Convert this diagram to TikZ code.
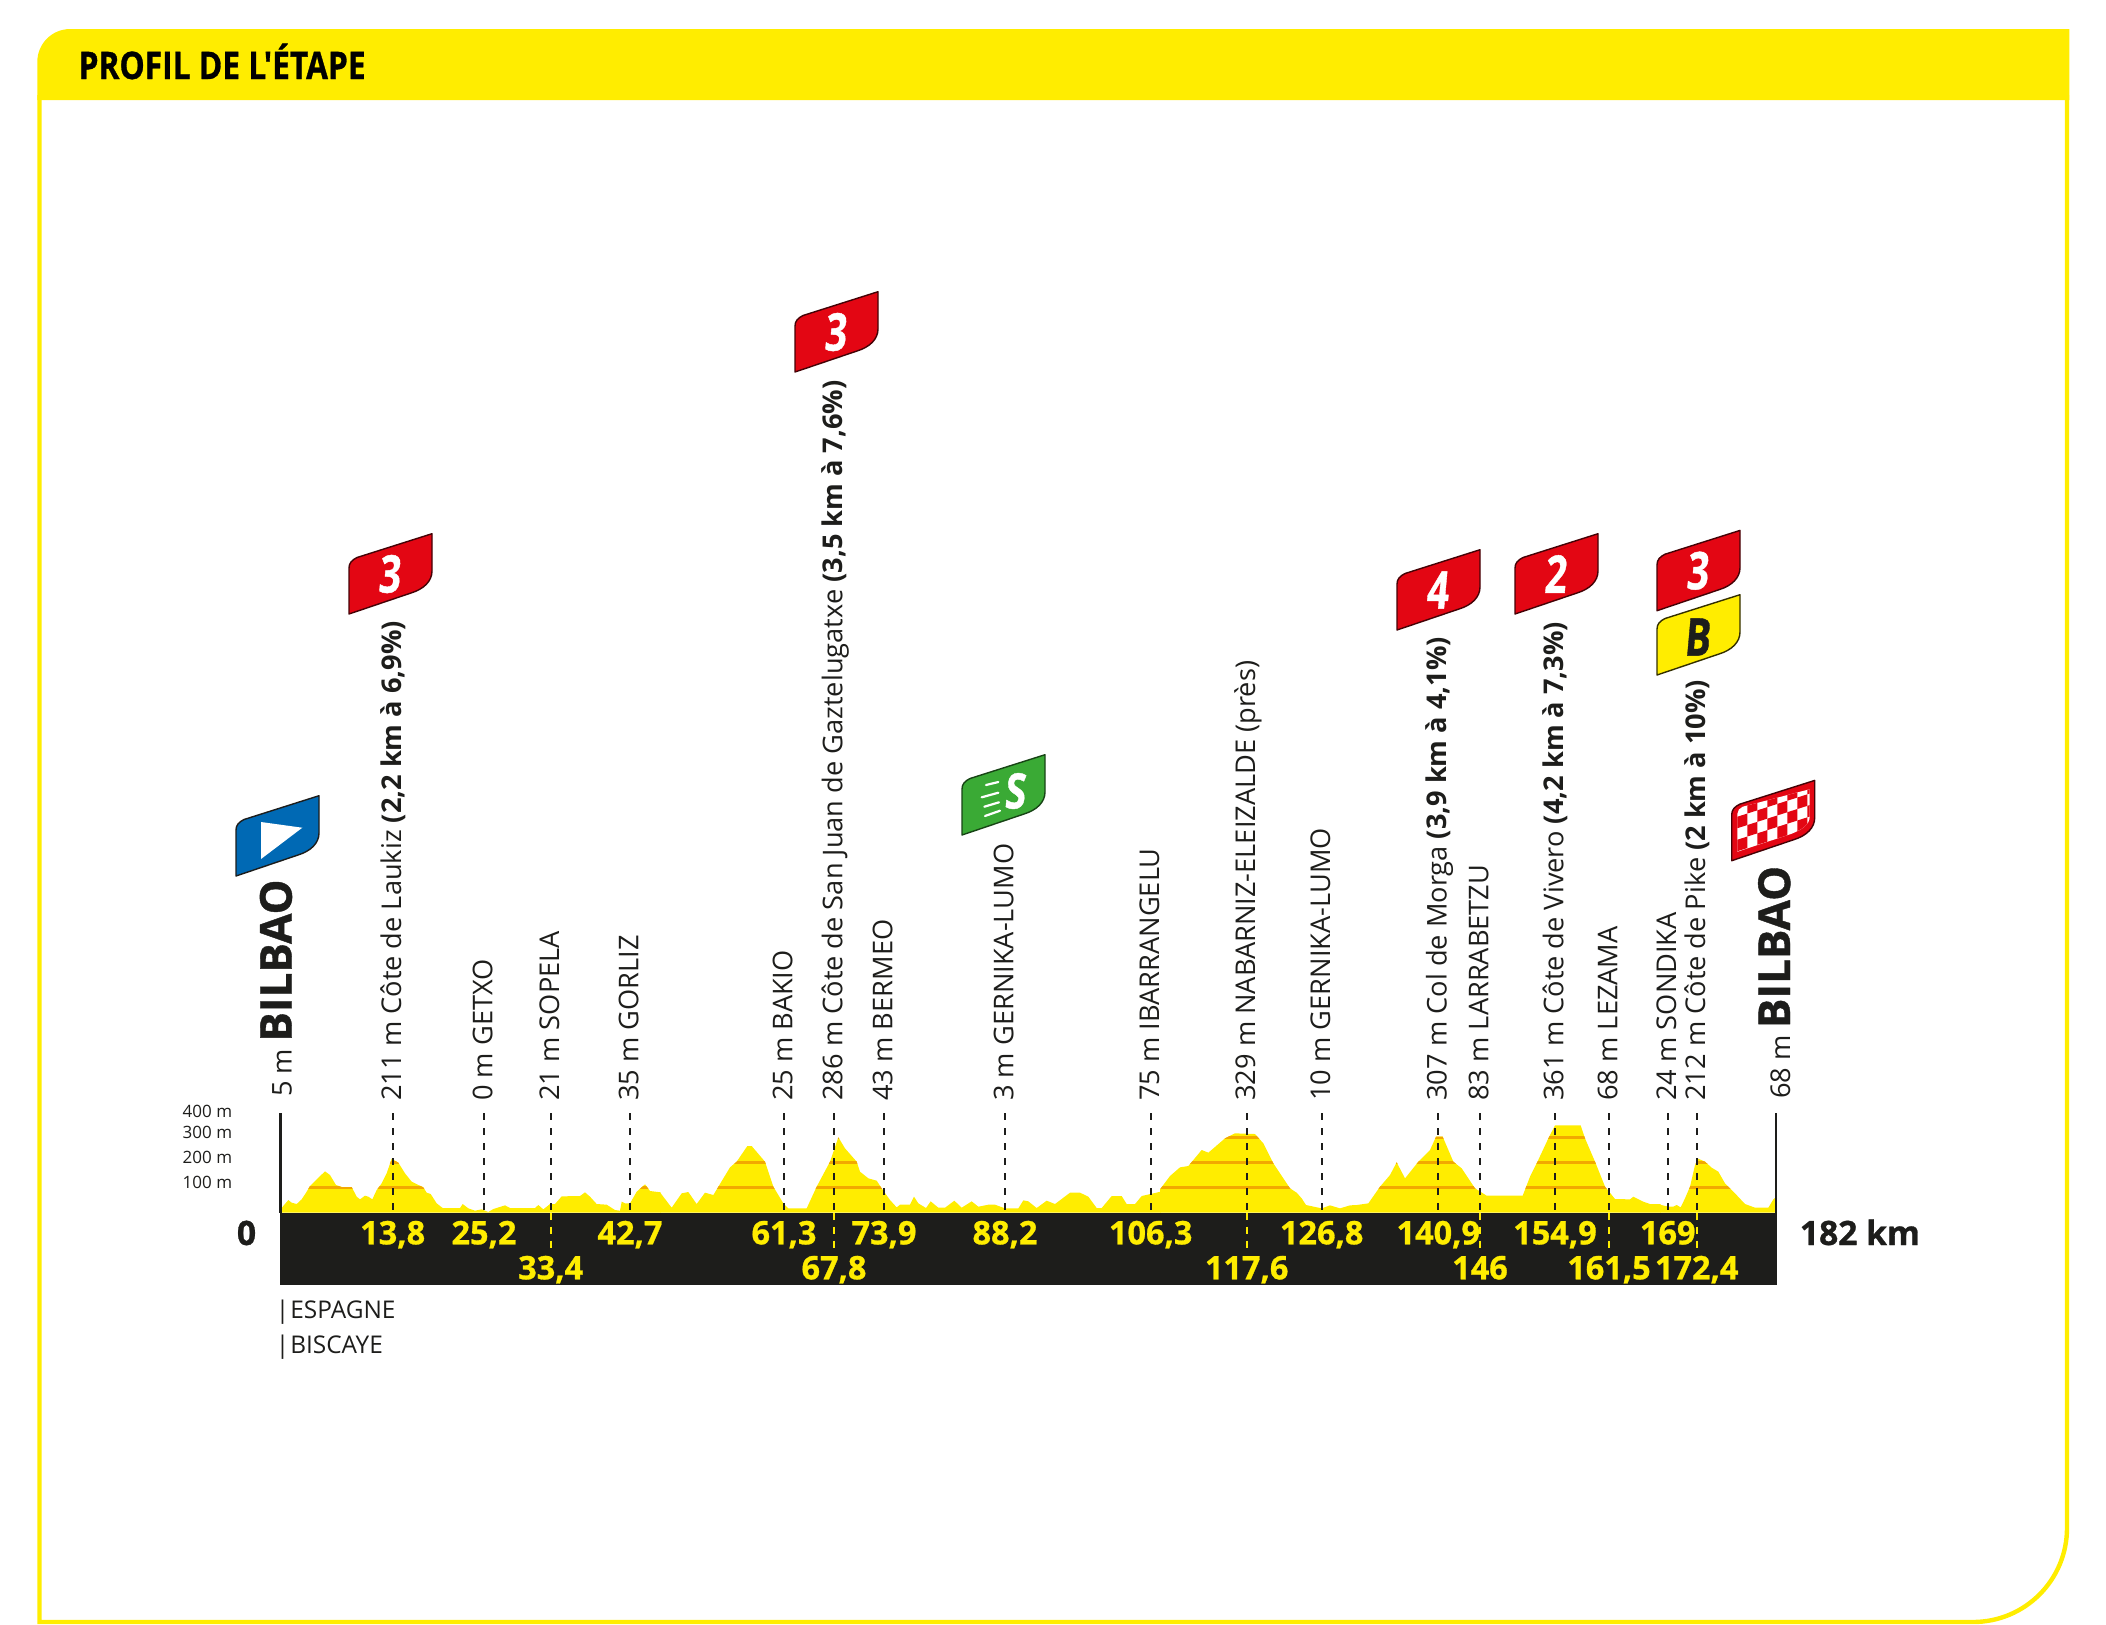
\documentclass[tikz,border=0pt]{standalone}
\usepackage{fontspec}
\setmainfont{Open Sans}
\newfontfamily\xbase{Open Sans}[BoldFeatures={FakeBold=0.9}]
\newcommand{\xb}{\xbase\bfseries}
\definecolor{tyel}{HTML}{FFED00}
\definecolor{tblk}{HTML}{1D1D1B}
\definecolor{torg}{HTML}{F2A900}
\definecolor{tred}{HTML}{E30613}
\definecolor{tblu}{HTML}{0069B4}
\definecolor{tgrn}{HTML}{3AAA35}
\tikzset{
 lbl/.style={font=\fontsize{13.6}{16}\selectfont,text=tblk,rotate=90,anchor=base west,inner sep=0pt},
 kmnum/.style={font=\xb\fontsize{16.2}{18}\selectfont,text=tyel,anchor=base,inner sep=0pt},
 blacktxt/.style={font=\xb\fontsize{16.8}{18}\selectfont,text=tblk,inner sep=0pt},
 dashblk/.style={draw=tblk,line width=1pt,dash pattern=on 3.7pt off 3.8pt},
 dashyel/.style={draw=tyel,line width=1pt,dash pattern=on 3.7pt off 3.3pt},
 axisline/.style={draw=tblk,line width=1.1pt},
 alt/.style={font=\fontsize{8.5}{10}\selectfont,text=tblk,anchor=base east,inner sep=0pt},
 region/.style={font=\fontsize{12.2}{14}\selectfont,text=tblk,anchor=base west,inner sep=0pt},
 glyph/.style={font=\xb\fontsize{26}{28}\selectfont,inner sep=0pt,xscale=.74,xslant=.12},
}
\newcommand{\flagshape}{(0,0) -- (0,-46) .. controls (0,-51) and (3,-54) .. (8,-56.5) -- (83,-80.3) -- (83,-43) .. controls (83,-33) and (75,-25) .. (62,-21) -- cycle}
\newcommand{\flagat}[4]{\begin{scope}[shift={(#1,#2)}]\draw[fill=#3,draw=#4,line width=.7pt,line join=round] \flagshape;}
\newcommand{\seg}[4]{\begin{scope}[shift={(#1,#2)},x=.166667pt,y=-.166667pt]
 \fill[tyel] plot coordinates {#3} -- cycle;
 \clip plot coordinates {#3} -- cycle;
 \foreach \yy in {#4} \draw[torg,line width=1.2pt] (-100,\yy) -- (1700,\yy);
 \end{scope}}
\newcommand{\stage}[5]{%
 \coordinate (#1t) at (#2,1113);
 \coordinate (#1b) at (#2,1212.7);
 \draw[dashblk] (#1t) -- (#1b);
 \ifnum#5=2
  \coordinate (#1y) at (#2,1248);
  \draw[dashyel] (#1b) -- (#1y);
  \node[kmnum] (#1k) at (#2,1279.3) {#4};
 \else
  \node[kmnum] (#1k) at (#2,1244.3) {#4};
 \fi
 \node[lbl] (#1l) at ([xshift=4.2pt]#1t |- 0,1101) {#3};
}
\begin{document}
\begin{tikzpicture}[x=.5pt,y=-.5pt]
\useasboundingbox (0,0) rectangle (2106,1624);
% frame
\draw[tyel,line width=2.2pt] (39.5,95) -- (39.5,1622) -- (1973,1622) .. controls (2025,1622) and (2067,1580) .. (2067,1528) -- (2067,95);
\fill[tyel] (37.3,100) -- (37.3,62) .. controls (37.3,43.8) and (51.8,29) .. (70.3,29) -- (2069.3,29) -- (2069.3,100) -- cycle;
\node[font=\xb\fontsize{19}{20}\selectfont,text=black,anchor=base west,inner sep=0pt,xscale=.835] (title) at (78.3,79) {PROFIL DE L'ÉTAPE};
% profile
\seg{160}{1060}{(358,458)(368,440)(385,420)(395,428)(410,432)(425,418)(437,400)(450,378)(470,358)(495,334)(510,345)(528,375)(545,381)(575,381)(590,410)(600,418)(615,407)(625,410)(637,418)(650,390)(665,370)(680,340)(695,296)(715,308)(735,340)(755,365)(790,382)(800,398)(812,402)(830,430)(848,444)(900,444)(908,432)(925,445)(945,452)(965,448)(985,456)(1000,447)(1035,436)(1050,444)(1125,444)(1135,435)(1150,448)(1170,432)(1185,432)(1205,409)(1260,408)(1275,397)(1290,410)(1310,432)(1340,434)(1365,450)(1380,452)(1385,425)(1395,430)(1410,430)(1430,395)(1455,373)(1470,393)(1502,397)(1502,458)}{382,307,232}
\seg{660}{1060}{(0,458)(0,397)(35,443)(65,400)(85,396)(110,432)(135,398)(160,405)(210,322)(230,305)(262,258)(275,258)(315,305)(340,380)(370,430)(385,445)(440,445)(470,380)(510,305)(535,232)(555,265)(590,305)(600,335)(625,355)(650,362)(665,385)(690,420)(710,442)(720,434)(750,434)(762,410)(775,430)(798,444)(812,424)(835,443)(855,443)(883,422)(905,443)(935,424)(955,440)(985,434)(1005,434)(1035,445)(1075,445)(1090,421)(1105,424)(1130,444)(1160,422)(1185,432)(1230,398)(1260,398)(1285,410)(1310,444)(1325,444)(1355,408)(1385,408)(1400,432)(1425,432)(1445,408)(1502,395)(1502,458)}{382,307,232}
\seg{1160}{1060}{(0,458)(0,388)(30,348)(60,322)(85,318)(125,270)(145,278)(195,235)(225,220)(285,222)(310,250)(340,310)(390,385)(410,398)(425,415)(438,435)(485,445)(510,436)(540,445)(570,436)(590,435)(625,430)(660,380)(690,345)(710,307)(735,355)(775,305)(810,270)(828,230)(848,230)(880,305)(905,325)(945,385)(980,407)(1088,407)(1110,350)(1130,310)(1165,235)(1185,196)(1262,196)(1275,235)(1305,305)(1335,380)(1365,417)(1410,418)(1420,410)(1450,425)(1470,432)(1502,432)(1502,458)}{382,307,232}
\seg{1640}{1100}{(60,338)(60,314)(85,320)(100,320)(110,315)(122,322)(135,295)(150,260)(165,195)(175,176)(195,185)(215,203)(235,215)(255,250)(285,280)(315,312)(345,323)(385,323)(400,298)(407,292)(407,338)}{262,187}
% band and axes
\fill[tblk] (279.5,1212.7) rectangle (1776.5,1285.3);
\coordinate (axlt) at (280.5,1113);
\coordinate (axlb) at (280.5,1213);
\coordinate (axrt) at (1775.7,1113);
\coordinate (axrb) at (1775.7,1213);
\draw[axisline] (axlt) -- (axlb);
\draw[axisline] (axrt) -- (axrb);
% altitudes
\node[alt] (a400) at (232.5,1117.3) {400 m};
\node[alt] (a300) at (232.5,1138.3) {300 m};
\node[alt] (a200) at (232.5,1163.3) {200 m};
\node[alt] (a100) at (232.5,1188.3) {100 m};
\node[blacktxt,anchor=base] (zero) at (246.5,1245) {0};
\node[blacktxt,anchor=base west] (total) at (1799.5,1245) {182 km};
\node[region] (esp) at (275.5,1318) {|\hspace{.5pt}ESPAGNE};
\node[region] (bis) at (275.5,1353) {|\hspace{.5pt}BISCAYE};
% stages
\stage{a}{392.7}{211 m Côte de Laukiz \textbf{(2,2 km à 6,9\%)}}{13,8}{1}
\stage{b}{484}{0 m GETXO}{25,2}{1}
\stage{c}{550.7}{21 m SOPELA}{33,4}{2}
\stage{d}{630}{35 m GORLIZ}{42,7}{1}
\stage{e}{784}{25 m BAKIO}{61,3}{1}
\stage{f}{834}{286 m Côte de San Juan de Gaztelugatxe \textbf{(3,5 km à 7,6\%)}}{67,8}{2}
\stage{g}{884}{43 m BERMEO}{73,9}{1}
\stage{h}{1005}{3 m GERNIKA-LUMO}{88,2}{1}
\stage{i}{1150.7}{75 m IBARRANGELU}{106,3}{1}
\stage{j}{1246.7}{329 m NABARNIZ-ELEIZALDE (près)}{117,6}{2}
\stage{k}{1321.7}{10 m GERNIKA-LUMO}{126,8}{1}
\stage{m}{1438.3}{307 m Col de Morga \textbf{(3,9 km à 4,1\%)}}{140,9}{1}
\stage{n}{1480}{83 m LARRABETZU}{146}{2}
\stage{o}{1555}{361 m Côte de Vivero \textbf{(4,2 km à 7,3\%)}}{154,9}{1}
\stage{p}{1609}{68 m LEZAMA}{161,5}{2}
\stage{q}{1667.7}{24 m SONDIKA}{169}{1}
\stage{r}{1696.7}{212 m Côte de Pike \textbf{(2 km à 10\%)}}{172,4}{2}
\node[lbl] (startl) at (291.7,1097) {5 m {\xb\fontsize{22}{24}\selectfont BILBAO}};
\node[lbl] (endl) at (1790,1099) {68 m {\xb\fontsize{22}{24}\selectfont BILBAO}};
% flags
\flagat{236}{876}{tblu}{tblk}
 \fill[white] (25,-54) -- (66.3,-48.3) -- (25,-17) -- cycle;
\end{scope}
\flagat{349}{614}{tred}{black!70!tred}
 \node[glyph,text=white] (f1) at (41.5,-40) {3};
\end{scope}
\flagat{795}{372}{tred}{black!70!tred}
 \node[glyph,text=white] (f2) at (41.5,-40) {3};
\end{scope}
\flagat{1397}{630}{tred}{black!70!tred}
 \node[glyph,text=white] (f3) at (41.5,-40) {4};
\end{scope}
\flagat{1515}{614}{tred}{black!70!tred}
 \node[glyph,text=white] (f4) at (41.5,-40) {2};
\end{scope}
\flagat{1657}{610.7}{tred}{black!70!tred}
 \node[glyph,text=white] (f5) at (41.5,-40) {3};
\end{scope}
\flagat{1657}{675}{tyel}{black!80!tyel}
 \node[glyph,text=tblk] (f6) at (41.5,-38) {B};
\end{scope}
\flagat{962}{835}{tgrn}{black!60!tgrn}
 \node[glyph,text=white,font=\xb\fontsize{24.5}{26}\selectfont,xscale=1.05] (f7) at (54,-44) {S};
 \draw[white,line width=1.1pt,line cap=round] (24,-50) -- (36.3,-53) (19.7,-37.7) -- (36.3,-42.3) (22.3,-28.3) -- (37,-32.7) (23,-19) -- (38,-24.3);
\end{scope}
\flagat{1731.7}{860.7}{tred}{black!70!tred}
 \begin{scope}
 \fill[white] (5.7,-9) -- (5.7,-47) .. controls (5.7,-50) and (8,-53) .. (11,-54) -- (78,-71.5) -- (78,-44) .. controls (78,-36) and (70,-31) .. (60,-27) -- cycle;
 \clip (5.7,-9) -- (5.7,-47) .. controls (5.7,-50) and (8,-53) .. (11,-54) -- (78,-71.5) -- (78,-44) .. controls (78,-36) and (70,-31) .. (60,-27) -- cycle;
 \foreach \ci in {0,...,7}{\foreach \cj in {0,...,5}{
  \pgfmathtruncatemacro{\cpar}{mod(\ci+\cj,2)}
  \ifnum\cpar=0
   \fill[tred] ({5.7+10*\ci},{-9.5-3.2*\ci-11.5*\cj}) -- ({15.7+10*\ci},{-12.7-3.2*\ci-11.5*\cj}) -- ({15.7+10*\ci},{-24.2-3.2*\ci-11.5*\cj}) -- ({5.7+10*\ci},{-21-3.2*\ci-11.5*\cj}) -- cycle;
  \fi}}
 \end{scope}
\end{scope}
\end{tikzpicture}
\end{document}
